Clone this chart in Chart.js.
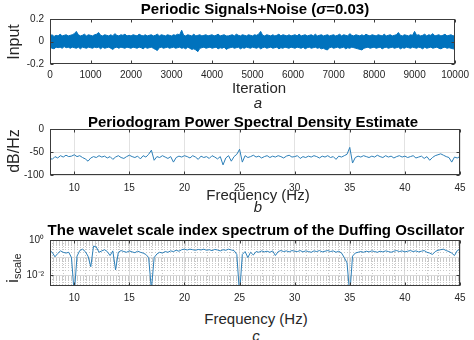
<!DOCTYPE html>
<html>
<head>
<meta charset="utf-8">
<script src="https://cdn.jsdelivr.net/npm/chart.js@4.4.1/dist/chart.umd.min.js"></script>
<style>
  body { margin: 0; width: 474px; height: 340px; background: #fff; position: relative; overflow: hidden;
         font-family: "Liberation Sans", Arial, sans-serif; }
  canvas { position: absolute; left: 0; }
  .t { position: absolute; white-space: nowrap; transform: translate(-50%, -50%); color: #000; }
  .title { font-weight: bold; font-size: 15px; }
  .lab { font-size: 15px; color: #262626; }
  .rot { transform: translate(-50%, -50%) rotate(-90deg); }
  .let { font-style: italic; font-size: 15px; color: #262626; }
  sub { font-size: 11px; vertical-align: -3px; }
</style>
</head>
<body>
<canvas id="ca" width="474" height="90" style="top:0"></canvas>
<canvas id="cb" width="474" height="100" style="top:100px"></canvas>
<canvas id="cc" width="474" height="90" style="top:215px"></canvas>

<div class="t title" style="left:255px;top:8px">Periodic Signals+Noise (<i>σ</i>=0.03)</div>
<div class="t lab rot" style="left:14px;top:42px;font-size:16px">Input</div>
<div class="t lab" style="left:259px;top:87px">Iteration</div>
<div class="t let" style="left:258px;top:102px">a</div>

<div class="t title" style="left:253px;top:121px">Periodogram Power Spectral Density Estimate</div>
<div class="t lab rot" style="left:14px;top:151px;font-size:16px">dB/Hz</div>
<div class="t lab" style="left:258px;top:194px">Frequency (Hz)</div>
<div class="t let" style="left:258px;top:206px">b</div>

<div class="t title" style="left:256px;top:229px">The wavelet scale index spectrum of the Duffing Oscillator</div>
<div class="t lab rot" style="left:13px;top:268px;font-size:16px">i<sub>scale</sub></div>
<div class="t lab" style="left:256px;top:318px">Frequency (Hz)</div>
<div class="t let" style="left:256px;top:335px">c</div>

<script>
// (a) noise band: upper and lower envelope of the signal, one value every 50 iterations
const iterStep = 50;
const inputUpper = [
  0.05,0.06,0.045,0.055,0.05,0.065,0.05,0.055,0.06,0.05,0.055,0.06,0.07,0.09,0.06,0.05,0.055,0.065,0.05,0.06,
  0.055,0.05,0.06,0.065,0.08,0.055,0.05,0.06,0.055,0.05,0.06,0.05,0.07,0.055,0.05,0.06,0.055,0.065,0.05,0.055,
  0.05,0.06,0.055,0.05,0.065,0.055,0.05,0.06,0.05,0.055,0.06,0.05,0.055,0.065,0.05,0.06,0.055,0.05,0.06,0.055,
  0.05,0.06,0.055,0.065,0.06,0.1,0.055,0.05,0.06,0.055,0.05,0.065,0.05,0.055,0.06,0.05,0.055,0.06,0.05,0.055,
  0.06,0.05,0.055,0.065,0.05,0.055,0.06,0.05,0.05,0.055,0.06,0.05,0.065,0.055,0.05,0.06,0.055,0.05,0.06,0.055,
  0.05,0.06,0.055,0.065,0.09,0.055,0.05,0.06,0.055,0.05,0.06,0.05,0.055,0.065,0.05,0.06,0.055,0.05,0.06,0.05,
  0.055,0.06,0.05,0.065,0.05,0.055,0.06,0.05,0.055,0.06,0.05,0.065,0.05,0.055,0.06,0.05,0.055,0.06,0.05,0.055,
  0.06,0.05,0.055,0.065,0.05,0.06,0.055,0.05,0.07,0.055,0.05,0.06,0.055,0.05,0.06,0.05,0.065,0.055,0.05,0.06,
  0.055,0.05,0.06,0.055,0.05,0.065,0.05,0.055,0.06,0.05,0.055,0.06,0.08,0.055,0.05,0.06,0.055,0.05,0.06,0.055,
  0.09,0.055,0.06,0.05,0.055,0.065,0.05,0.06,0.055,0.07,0.05,0.055,0.06,0.05,0.055,0.065,0.05,0.055,0.06,0.05,0.055
];
const inputLower = [
  -0.05,-0.06,-0.065,-0.05,-0.055,-0.05,-0.06,-0.045,-0.055,-0.05,-0.06,-0.05,-0.055,-0.06,-0.05,-0.065,-0.05,-0.055,-0.06,-0.05,
  -0.055,-0.06,-0.05,-0.055,-0.05,-0.065,-0.05,-0.06,-0.055,-0.05,-0.06,-0.07,-0.055,-0.05,-0.06,-0.05,-0.055,-0.06,-0.05,-0.055,
  -0.06,-0.05,-0.055,-0.06,-0.05,-0.055,-0.065,-0.05,-0.06,-0.055,-0.05,-0.06,-0.07,-0.08,-0.055,-0.05,-0.06,-0.055,-0.05,-0.06,
  -0.055,-0.05,-0.06,-0.055,-0.05,-0.06,-0.055,-0.065,-0.05,-0.06,-0.07,-0.065,-0.075,-0.09,-0.06,-0.055,-0.05,-0.06,-0.055,-0.05,
  -0.06,-0.055,-0.05,-0.065,-0.055,-0.06,-0.05,-0.07,-0.06,-0.055,-0.05,-0.06,-0.055,-0.05,-0.065,-0.055,-0.06,-0.05,-0.055,-0.06,
  -0.05,-0.055,-0.06,-0.05,-0.065,-0.055,-0.05,-0.06,-0.055,-0.05,-0.06,-0.055,-0.05,-0.065,-0.055,-0.06,-0.05,-0.055,-0.06,-0.05,
  -0.055,-0.06,-0.05,-0.055,-0.06,-0.05,-0.065,-0.055,-0.05,-0.06,-0.055,-0.05,-0.06,-0.055,-0.065,-0.06,-0.07,-0.075,-0.055,-0.05,
  -0.06,-0.055,-0.05,-0.06,-0.055,-0.05,-0.065,-0.055,-0.06,-0.05,-0.055,-0.06,-0.065,-0.07,-0.075,-0.06,-0.055,-0.05,-0.06,-0.055,
  -0.05,-0.06,-0.055,-0.05,-0.065,-0.055,-0.05,-0.06,-0.055,-0.05,-0.06,-0.055,-0.05,-0.065,-0.055,-0.06,-0.05,-0.055,-0.06,-0.05,
  -0.055,-0.06,-0.05,-0.055,-0.065,-0.05,-0.06,-0.055,-0.05,-0.06,-0.055,-0.05,-0.06,-0.065,-0.055,-0.05,-0.06,-0.055,-0.06,-0.065,-0.07
];

// (b) and (c) share a frequency grid: 7.75 .. 45 Hz, step 0.25
const freqStart = 7.75, freqStep = 0.25;
const psdDb = [
  -62,-66,-60,-63,-58,-61,-57,-60,-59,-56,
  -60,-58,-62,-65,-70,-63,-60,-62,-58,-61,
  -59,-63,-60,-66,-61,-58,-62,-64,-60,-57,
  -60,-62,-59,-65,-58,-61,-55,-46,-68,-60,
  -62,-58,-61,-64,-60,-72,-62,-59,-61,-58,
  -60,-63,-58,-61,-66,-59,-62,-60,-64,-58,
  -61,-65,-60,-78,-63,-58,-70,-60,-55,-44,
  -72,-58,-62,-60,-57,-61,-59,-63,-60,-58,
  -62,-59,-61,-58,-60,-63,-59,-57,-61,-60,
  -58,-64,-60,-62,-59,-61,-58,-60,-63,-59,
  -61,-58,-62,-60,-66,-59,-61,-58,-55,-40,
  -74,-62,-59,-61,-58,-60,-62,-59,-61,-57,
  -60,-62,-58,-61,-59,-63,-60,-58,-61,-59,
  -62,-60,-58,-63,-61,-59,-64,-60,-68,-62,
  -58,-56,-54,-57,-60,-62,-72,-61,-63,-60
];
const scaleIndex = [
  0.25,0.2,0.11,0.17,0.24,0.2,0.18,0.2,0.1,0.0008,
  0.12,0.25,0.3,0.22,0.12,0.03,0.45,0.4,0.2,0.24,
  0.28,0.22,0.13,0.24,0.02,0.2,0.25,0.22,0.2,0.24,
  0.21,0.19,0.23,0.2,0.18,0.15,0.1,0.0015,0.1,0.16,
  0.2,0.18,0.22,0.2,0.24,0.22,0.26,0.23,0.28,0.3,
  0.27,0.3,0.28,0.26,0.29,0.27,0.3,0.26,0.28,0.25,
  0.29,0.27,0.24,0.28,0.26,0.3,0.27,0.25,0.15,0.0008,
  0.15,0.22,0.1,0.2,0.14,0.22,0.2,0.24,0.21,0.23,
  0.2,0.24,0.13,0.22,0.25,0.22,0.24,0.21,0.25,0.23,
  0.22,0.25,0.21,0.24,0.22,0.2,0.24,0.22,0.25,0.21,
  0.23,0.25,0.22,0.24,0.2,0.23,0.18,0.1,0.05,0.0008,
  0.12,0.18,0.2,0.22,0.2,0.23,0.21,0.24,0.22,0.2,
  0.23,0.21,0.24,0.22,0.2,0.23,0.25,0.22,0.24,0.21,
  0.23,0.25,0.22,0.24,0.21,0.23,0.25,0.2,0.18,0.15,
  0.22,0.26,0.28,0.3,0.25,0.22,0.18,0.13,0.25,0.3
];

// tick labels
const iterTicks = [0,1000,2000,3000,4000,5000,6000,7000,8000,9000,10000];
const inputTicks = [-0.2, 0, 0.2];
const freqTicks = [10,15,20,25,30,35,40,45];
const dbTicks = [-100, -50, 0];
const freqMinor = [8,9,11,12,13,14,16,17,18,19,21,22,23,24,26,27,28,29,31,32,33,34,36,37,38,39,41,42,43,44];
const scaleTicks = [0.01, 0.1, 1];
const scaleMinor = [0.003,0.004,0.005,0.006,0.007,0.008,0.009,0.02,0.03,0.04,0.05,0.06,0.07,0.08,0.09,
                    0.2,0.3,0.4,0.5,0.6,0.7,0.8,0.9];
const scaleLabels = {1: '10\u2070', 0.01: '10\u207B\u00B2'};

const FONT = '"Liberation Sans", Arial, sans-serif';
const tickFont = { family: FONT, size: 10 };
const tickColor = '#262626';

// box round the axes plus short inner tick marks, like matlab
const boxPlugin = {
  id: 'box',
  afterDatasetsDraw(chart, args, opts) {
    const { ctx, chartArea: a, scales: { x, y } } = chart;
    const L = Math.round(a.left) + 0.5, R = Math.round(a.right) - 0.5;
    const T = Math.round(a.top) + 0.5, B = Math.round(a.bottom) - 0.5;
    ctx.save();
    ctx.strokeStyle = '#3c3c3c';
    ctx.lineWidth = 1;
    ctx.strokeRect(L, T, R - L, B - T);
    ctx.beginPath();
    (opts.xMarks || []).forEach(v => {
      const px = Math.round(x.getPixelForValue(v)) + 0.5;
      ctx.moveTo(px, T); ctx.lineTo(px, T + 3);
      ctx.moveTo(px, B); ctx.lineTo(px, B - 3);
    });
    (opts.yMarks || []).forEach(v => {
      const py = Math.round(y.getPixelForValue(v)) + 0.5;
      ctx.moveTo(L, py); ctx.lineTo(L + 3, py);
      ctx.moveTo(R, py); ctx.lineTo(R - 3, py);
    });
    ctx.stroke();
    ctx.restore();
  }
};

// minor dotted grid, drawn through the scales
const minorGrid = {
  id: 'minorGrid',
  beforeDatasetsDraw(chart, args, opts) {
    if (!opts.x) return;
    const { ctx, chartArea: a, scales: { x, y } } = chart;
    ctx.save();
    ctx.strokeStyle = '#c8c8c8';
    ctx.lineWidth = 1;
    ctx.setLineDash([1, 2]);
    ctx.beginPath();
    opts.x.forEach(v => {
      const px = Math.round(x.getPixelForValue(v)) + 0.5;
      ctx.moveTo(px, a.top); ctx.lineTo(px, a.bottom);
    });
    opts.y.forEach(v => {
      const py = Math.round(y.getPixelForValue(v)) + 0.5;
      ctx.moveTo(a.left, py); ctx.lineTo(a.right, py);
    });
    ctx.stroke();
    ctx.restore();
  }
};

const setTicks = list => scale => { scale.ticks = list.map(v => ({ value: v })); };

function baseOptions(padTop, xAxisH, xPad) {
  return {
    responsive: false,
    animation: false,
    events: [],
    layout: { padding: { top: padTop, right: 14, left: 0, bottom: 0 } },
    plugins: { legend: { display: false }, tooltip: { enabled: false }, title: { display: false } },
    scales: {
      x: {
        type: 'linear',
        grid: { display: false, drawTicks: false },
        border: { display: false },
        ticks: { font: tickFont, color: tickColor, padding: xPad, maxRotation: 0, autoSkip: false,
                 callback: v => String(v) },
        afterFit: s => { s.height = xAxisH; }
      },
      y: {
        grid: { display: false, drawTicks: false },
        border: { display: false },
        ticks: { font: tickFont, color: tickColor, padding: 6, autoSkip: false, callback: v => String(v) },
        afterFit: s => { s.width = 50; }
      }
    }
  };
}

// (a)
const optA = baseOptions(19, 26, 5);
Object.assign(optA.scales.x, { min: 0, max: 10000, afterBuildTicks: setTicks(iterTicks) });
Object.assign(optA.scales.y, { min: -0.2, max: 0.2, afterBuildTicks: setTicks(inputTicks) });
optA.plugins.box = { xMarks: iterTicks, yMarks: inputTicks };

new Chart(document.getElementById('ca'), {
  type: 'line',
  data: {
    datasets: [
      { data: inputUpper.map((v, i) => ({ x: i * iterStep, y: v })), borderColor: '#0072bd',
        borderWidth: 1, pointRadius: 0, fill: false },
      { data: inputLower.map((v, i) => ({ x: i * iterStep, y: v })), borderColor: '#0072bd',
        backgroundColor: '#0072bd', borderWidth: 1, pointRadius: 0, fill: '-1' }
    ]
  },
  options: optA,
  plugins: [boxPlugin]
});

// (b)
const optB = baseOptions(29, 25, 7);
Object.assign(optB.scales.x, { min: 7.8, max: 45, afterBuildTicks: setTicks(freqTicks) });
optB.scales.x.grid = { display: true, drawTicks: false, color: '#e2e2e2' };
Object.assign(optB.scales.y, { min: -100, max: 0, afterBuildTicks: setTicks(dbTicks) });
optB.scales.y.grid = { display: true, drawTicks: false, color: '#e2e2e2' };
optB.plugins.box = { xMarks: freqTicks, yMarks: dbTicks };

new Chart(document.getElementById('cb'), {
  type: 'line',
  data: {
    datasets: [
      { data: psdDb.map((v, i) => ({ x: freqStart + i * freqStep, y: v })), borderColor: '#2c7fb8',
        borderWidth: 1, pointRadius: 0, tension: 0 }
    ]
  },
  options: optB,
  plugins: [boxPlugin]
});

// (c)
const optC = baseOptions(25, 19, 6);
Object.assign(optC.scales.x, { min: 7.8, max: 45, afterBuildTicks: setTicks(freqTicks) });
optC.scales.x.grid = { display: true, drawTicks: false, color: '#dadada' };
Object.assign(optC.scales.y, { type: 'logarithmic', min: 0.0024, max: 1, afterBuildTicks: setTicks(scaleTicks) });
optC.scales.y.grid = { display: true, drawTicks: false, color: '#dadada' };
optC.scales.y.ticks.callback = v => scaleLabels[v] || '';
optC.plugins.box = { xMarks: freqTicks, yMarks: [0.01, 1] };
optC.plugins.minorGrid = { x: freqMinor, y: scaleMinor };

new Chart(document.getElementById('cc'), {
  type: 'line',
  data: {
    datasets: [
      { data: scaleIndex.map((v, i) => ({ x: freqStart + i * freqStep, y: v })), borderColor: '#2c7fb8',
        borderWidth: 1, pointRadius: 0, tension: 0 }
    ]
  },
  options: optC,
  plugins: [minorGrid, boxPlugin]
});
</script>
</body>
</html>
